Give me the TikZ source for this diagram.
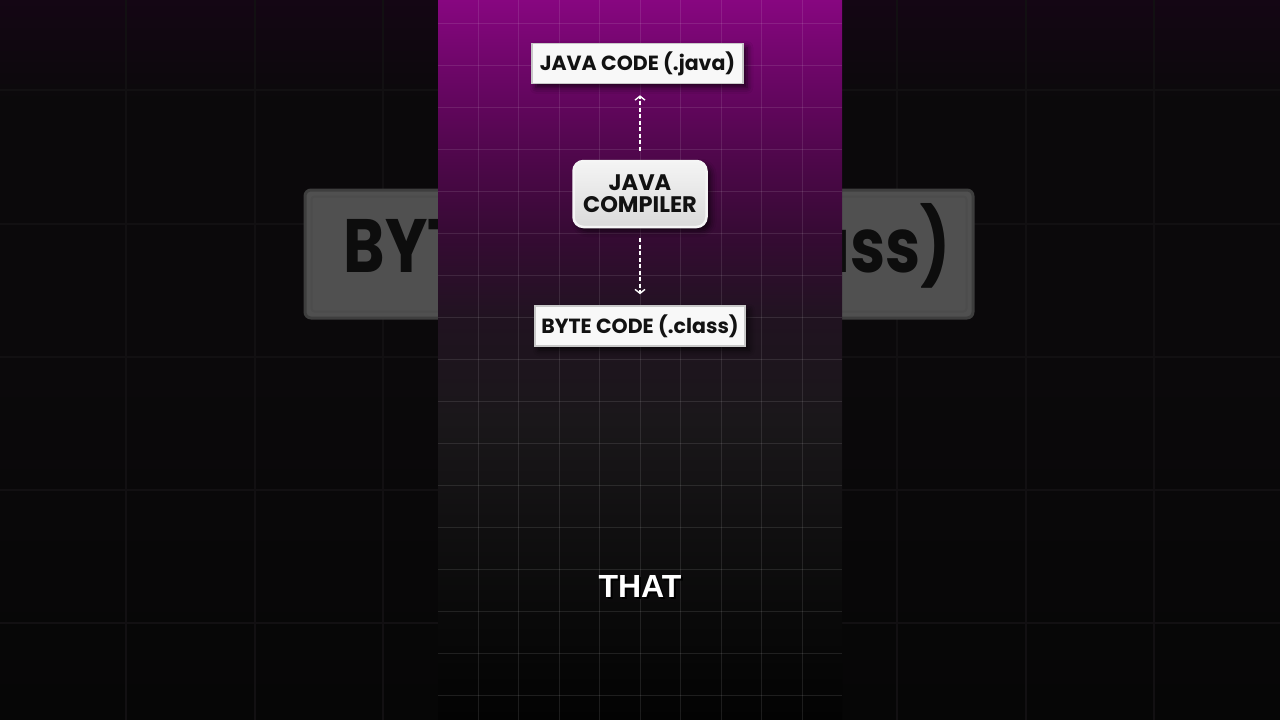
\documentclass[tikz,border=0pt]{standalone}
\usepackage{fontspec}
\setmainfont{Poppins}
\newfontfamily\thatfont{Liberation Sans}
\usetikzlibrary{shadows.blur,arrows.meta}
\definecolor{sA}{RGB}{20,6,20}
\definecolor{sB}{RGB}{11,9,11}
\definecolor{sC}{RGB}{6,6,6}
\definecolor{pA}{RGB}{135,6,128}
\definecolor{pB}{RGB}{105,6,100}
\definecolor{pC}{RGB}{78,7,74}
\definecolor{pD}{RGB}{52,11,50}
\definecolor{pE}{RGB}{32,19,32}
\definecolor{pF}{RGB}{26,23,26}
\definecolor{pG}{RGB}{17,16,17}
\definecolor{pH}{RGB}{9,9,9}
\definecolor{pI}{RGB}{3,3,3}
\definecolor{sidegridc}{RGB}{18,16,18}
\definecolor{bigfill}{RGB}{80,80,80}
\definecolor{bigedge}{RGB}{62,62,62}
\definecolor{boxfill}{RGB}{248,248,248}
\definecolor{boxedge}{RGB}{200,200,200}
\definecolor{boxtext}{RGB}{18,18,18}
\definecolor{compTop}{RGB}{244,244,244}
\definecolor{compBot}{RGB}{218,218,218}
\pgfdeclareverticalshading{sideshade}{100bp}{color(0bp)=(sC); color(25bp)=(sC); color(50bp)=(sB); color(68bp)=(sB); color(75bp)=(sA); color(100bp)=(sA)}
\pgfdeclareverticalshading{panelshade}{100bp}{color(0bp)=(pI); color(25bp)=(pI); color(31.9bp)=(pH); color(38.9bp)=(pG); color(45.8bp)=(pF); color(52.8bp)=(pE); color(58.3bp)=(pD); color(63.9bp)=(pC); color(69.4bp)=(pB); color(75bp)=(pA); color(100bp)=(pA)}
\tikzset{
  sidegrid/.style={draw=sidegridc, line width=2.5pt},
  pgrid/.style={draw=white, draw opacity=0.1, line width=1pt},
  bigbox/.style={draw=bigedge, line width=3pt, fill=bigfill, rounded corners=6pt, minimum width=668pt, minimum height=128pt, inner sep=0pt},
  bigtext/.style={text=black!95, font=\fontsize{63}{70}\selectfont\bfseries, inner sep=0pt},
  rectbox/.style={draw=boxedge, line width=1.5pt, fill=boxfill, minimum height=40pt, inner sep=0pt, text=boxtext, font=\fontsize{20.5}{24}\selectfont\bfseries, blur shadow={shadow xshift=4pt, shadow yshift=-4pt, shadow blur radius=6pt, shadow opacity=70}},
  roundbox/.style={draw=white!92!gray, line width=2.5pt, top color=compTop, bottom color=compBot, rounded corners=10pt, minimum width=133pt, minimum height=66pt, inner sep=0pt, align=center, text=boxtext, font=\fontsize{22.5}{22}\selectfont\bfseries, blur shadow={shadow xshift=4pt, shadow yshift=-4pt, shadow blur radius=6pt, shadow opacity=70}},
  dasharrow/.style={draw=white, line width=1.4pt, dash pattern=on 4pt off 2.5pt, -{Straight Barb[length=4pt,width=10pt,line width=1.4pt]}},
  thattext/.style={text=white, font=\thatfont\fontsize{32}{36}\selectfont\bfseries}
}
\begin{document}
\begin{tikzpicture}[x=1pt,y=-1pt]
\useasboundingbox (0,0) rectangle (1280,720);
% blurred side background
\shade[shading=sideshade] (0,0) rectangle (1280,720);
\foreach \x in {126,255,383,897,1026,1154} \draw[sidegrid] (\x,0) -- (\x,720);
\foreach \y in {90,224,357,490,623} \draw[sidegrid] (0,\y) -- (1280,\y);
\node[bigbox] (bg) at (639,254) {};
\draw[draw=black!70, line width=2pt, rounded corners=3pt] ([shift={(8,8)}]bg.north west) rectangle ([shift={(-8,-8)}]bg.south east);
\node[bigtext] (bgt) at (647,246) {\scalebox{1}[1.2]{BYTE CODE (.class)}};
% central panel
\shade[shading=panelshade] (438,0) rectangle (842,720);
\foreach \x in {478,518.5,559,599.5,640,680.5,721,761.5,802} \draw[pgrid] (\x,0) -- (\x,720);
\foreach \y in {23,65,107,149,191,233,275,317,359,401,443,485,527,569,611,653,695} \draw[pgrid] (438,\y) -- (842,\y);
% diagram
\node[rectbox, minimum width=211pt] (java) at (637.5,63.5) {JAVA CODE (.java)};
\node[roundbox] (comp) at (640,194) {JAVA\\COMPILER};
\node[rectbox, minimum width=210pt] (byte) at (640,326) {BYTE CODE (.class)};
\draw[dasharrow] ([yshift=9pt]comp.north) -- ([yshift=-11pt]comp.north |- java.south);
\draw[dasharrow] ([yshift=-10pt]comp.south) -- ([yshift=11pt]comp.south |- byte.north);
\node[thattext] (thatshadow) at (642,588) {\textcolor{black}{THAT}};
\node[thattext] (that) at (640,586) {THAT};
\end{tikzpicture}
\end{document}
